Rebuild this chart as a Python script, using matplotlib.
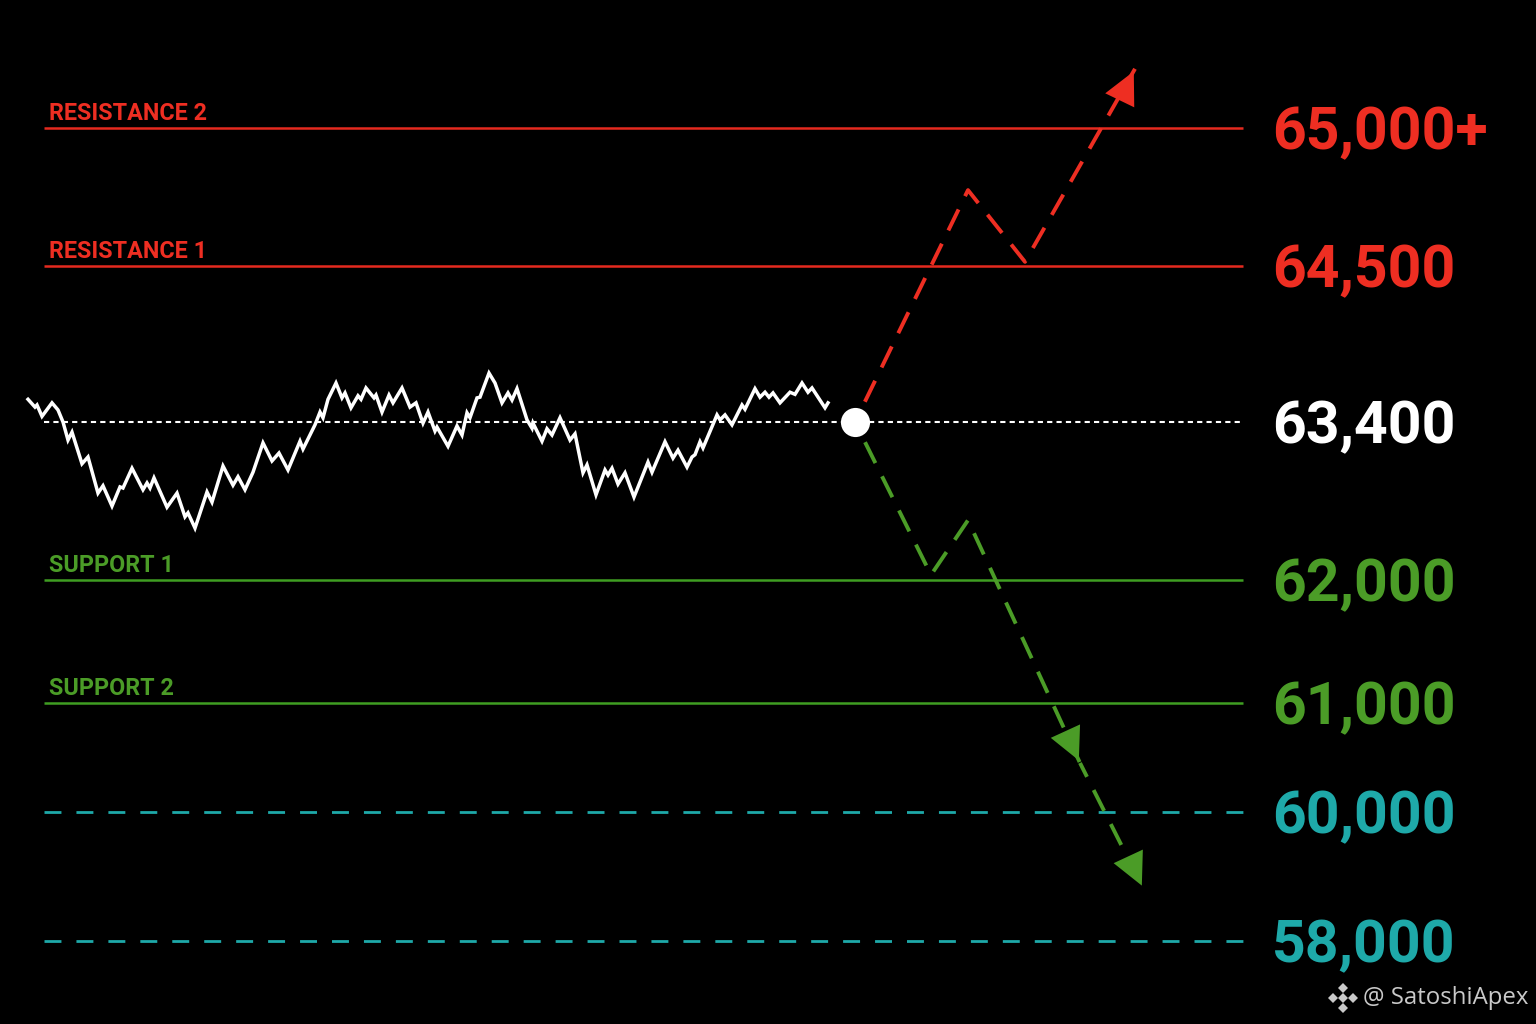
import numpy as np
import matplotlib
matplotlib.use("Agg")
import matplotlib.pyplot as plt

# price history (time index, price)
t = [28, 35, 37, 42, 52, 58, 63, 68, 72, 82, 88, 98, 103, 112, 120, 123, 132, 143, 147, 150,
     154, 167, 177, 185, 188, 195, 207, 212, 223, 233, 238, 245, 253, 263, 272, 279, 288, 300,
     303, 315, 320, 323, 328, 336, 342, 345, 351, 358, 361, 366, 374, 376, 382, 389, 393, 402,
     410, 416, 423, 428, 435, 437, 448, 457, 462, 467, 470, 477, 480, 489, 495, 502, 508, 512,
     517, 527, 532, 533, 542, 547, 552, 560, 570, 575, 583, 587, 596, 605, 608, 612, 618, 625,
     634, 648, 652, 665, 673, 678, 687, 692, 695, 700, 703, 717, 720, 725, 732, 742, 745, 755,
     760, 765, 769, 773, 780, 790, 795, 802, 808, 812, 825, 828]
price = [63560, 63505, 63520, 63440, 63535, 63485, 63400, 63240, 63310, 63030, 63090, 62770,
         62835, 62655, 62825, 62815, 62990, 62800, 62860, 62815, 62905, 62645, 62770, 62560,
         62595, 62460, 62780, 62690, 63010, 62840, 62915, 62800, 62955, 63215, 63055, 63125,
         62975, 63230, 63160, 63375, 63470, 63430, 63560, 63675, 63570, 63605, 63500, 63585,
         63560, 63640, 63570, 63590, 63470, 63590, 63535, 63640, 63505, 63535, 63390, 63470,
         63320, 63355, 63185, 63365, 63285, 63465, 63430, 63570, 63575, 63745, 63675, 63535,
         63605, 63555, 63635, 63415, 63345, 63390, 63230, 63340, 63285, 63430, 63240, 63295,
         62950, 63020, 62755, 62975, 62930, 62990, 62850, 62950, 62735, 63045, 62955, 63225,
         63080, 63150, 63000, 63090, 63110, 63225, 63170, 63450, 63415, 63450, 63375, 63520,
         63490, 63635, 63575, 63610, 63575, 63605, 63535, 63610, 63595, 63675, 63610, 63640,
         63500, 63535]

current = 63400
current_t = 855
resistance = [65000, 64500]
resistance_names = ["RESISTANCE 2", "RESISTANCE 1"]
support = [62000, 61000]
support_names = ["SUPPORT 1", "SUPPORT 2"]
targets = [60000, 58000]
value_labels = {65000: "65,000+", 64500: "64,500", 63400: "63,400", 62000: "62,000",
                61000: "61,000", 60000: "60,000", 58000: "58,000"}

# scenario paths
bull_t = [855, 968, 1025, 1135]
bull_p = [63400, 64775, 64515, 65215]
bear_t = [855, 931, 968, 1080]
bear_p = [63400, 62045, 62530, 60450]
bear2_t = [1080, 1143]
bear2_p = [60450, 58820]

RED = "#ee2e22"
RED_LINE = "#e52a1f"
GREEN = "#4b9c27"
GREEN_LINE = "#3f9e22"
CYAN = "#1ea9a9"

# uneven price scale (levels are spaced for readability, not linearly)
scale_prices = [56710, 58000, 60000, 61000, 62000, 63400, 64500, 65000, 65465]
scale_pos = [0, 83, 212, 321, 444, 602, 758, 896, 1024]


def fwd(p):
    return np.interp(p, scale_prices, scale_pos)


def inv(y):
    return np.interp(y, scale_pos, scale_prices)


fig = plt.figure(figsize=(15.36, 10.24), dpi=100, facecolor="black")
ax = fig.add_axes([0, 0, 1, 1])
ax.set_facecolor("black")
ax.set_yscale("function", functions=(fwd, inv))
ax.set_xlim(0, 1536)
ax.set_ylim(scale_prices[0], scale_prices[-1])
ax.axis("off")

x0, x1 = 44, 1243
label_font = dict(family=["Roboto", "DejaVu Sans"], fontweight="bold", fontsize=16.8)
num_size = 42.5
num_font = dict(family=["Roboto", "DejaVu Sans"], fontweight="bold", fontsize=num_size)

for p, name in zip(resistance, resistance_names):
    ax.hlines(p, x0, x1, color=RED_LINE, lw=1.8)
    ax.annotate(name, (49, p), xytext=(0, 2), textcoords="offset points",
                color=RED, va="bottom", ha="left", **label_font)
for p, name in zip(support, support_names):
    ax.hlines(p, x0, x1, color=GREEN_LINE, lw=1.8)
    ax.annotate(name, (49, p), xytext=(0, 2), textcoords="offset points",
                color=GREEN, va="bottom", ha="left", **label_font)
for p in targets:
    ax.hlines(p, x0, x1, color=CYAN, lw=2, linestyles=[(0, (6.1, 5.4))])

ax.hlines(current, x0, x1, color="white", lw=1.5, linestyles=[(0, (2.5, 2))])

# price line
ax.plot(t, price, color="white", lw=2.5, solid_joinstyle="miter", zorder=4)

# scenarios
dash = (6.0, 3.8)
ax.plot(bull_t, bull_p, color=RED, lw=2.8, linestyle=(4, dash), zorder=3)
ax.annotate("", xy=(bull_t[-1], bull_p[-1]), xytext=(bull_t[-1] - 8, bull_p[-1] - 60),
            arrowprops=dict(arrowstyle="-|>", color=RED, lw=0, mutation_scale=58), zorder=3)
ax.plot(bear_t, bear_p, color=GREEN, lw=2.8, linestyle=(4, dash), zorder=3)
ax.plot(bear2_t, bear2_p, color=GREEN, lw=2.8, linestyle=(2, dash), zorder=3)
ax.annotate("", xy=(bear_t[-1], bear_p[-1]), xytext=(bear_t[-1] - 6, bear_p[-1] + 120),
            arrowprops=dict(arrowstyle="-|>", color=GREEN, lw=0, mutation_scale=58), zorder=3)
ax.annotate("", xy=(bear2_t[-1], bear2_p[-1]), xytext=(bear2_t[-1] - 6, bear2_p[-1] + 200),
            arrowprops=dict(arrowstyle="-|>", color=GREEN, lw=0, mutation_scale=58), zorder=3)

ax.scatter([current_t], [current], s=440, color="white", zorder=6, linewidths=0)

# value labels on the right, digits centred on their level
for p, txt in value_labels.items():
    if p in resistance:
        c = RED
    elif p in support:
        c = GREEN
    elif p in targets:
        c = CYAN
    else:
        c = "white"
    ax.annotate(txt, (1272, p), xytext=(0, -0.711 * num_size / 2), textcoords="offset points",
                color=c, va="baseline", ha="left", **num_font)

# watermark
fig.text(1363 / 1536, 1 - 998 / 1024, "@ SatoshiApex", color="#c9c9c9", fontsize=17.3,
         family=["Open Sans", "DejaVu Sans"], va="center", ha="left")
lx, ly = 1343 / 1536, 1 - 998 / 1024
dx, dy = 10 / 1536, 10 / 1024
fig.add_artist(plt.Line2D([lx, lx - dx, lx + dx, lx, lx], [ly, ly, ly, ly + dy, ly - dy],
                          transform=fig.transFigure, ls="none", marker="D", ms=5,
                          color="#c9c9c9", mew=0))

fig.savefig("out.png", dpi=100, facecolor="black")
